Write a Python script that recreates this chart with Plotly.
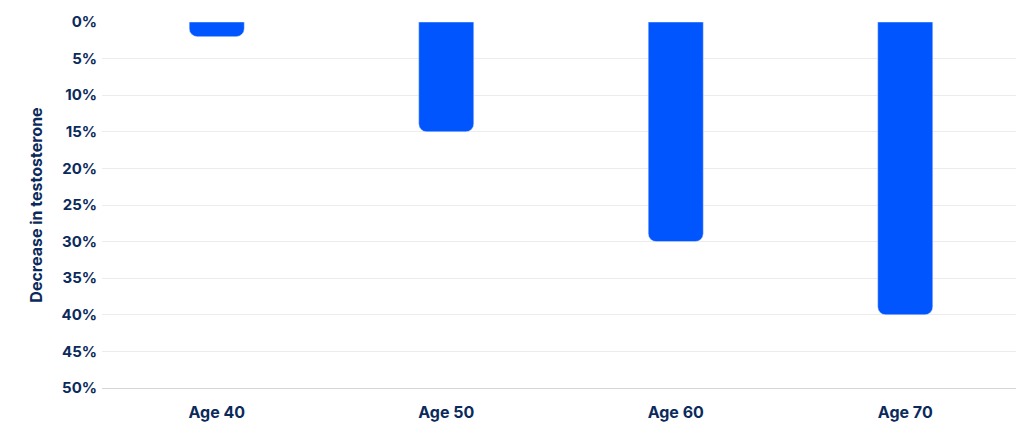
import plotly.graph_objects as go

categories = ["Age 40", "Age 50", "Age 60", "Age 70"]
decrease = [2, 15, 30, 40]
tick_vals = [0, 5, 10, 15, 20, 25, 30, 35, 40, 45, 50]
tick_text = [f"{v}%" for v in tick_vals]

navy = "#0b2a5b"
fig = go.Figure(go.Bar(
    x=categories, y=decrease, marker_color="#0055ff", width=0.24,
    text=[f"{v}%" for v in decrease], textposition="outside",
    textfont=dict(color="white", size=13), cliponaxis=False,
))
fig.update_layout(
    width=1024, height=436, plot_bgcolor="white", paper_bgcolor="white",
    margin=dict(l=94, r=12, t=14, b=56), barcornerradius=8, showlegend=False,
    font=dict(family="Inter, Roboto, sans-serif", color=navy, size=15),
)
fig.update_yaxes(range=[50, 0], tickvals=tick_vals, ticktext=tick_text, automargin=False,
                 gridcolor="#ececec", showline=False, zeroline=False, ticklabelstandoff=4,
                 tickfont=dict(size=15, color=navy, weight="bold"),
                 title=dict(text="Decrease in testosterone", font=dict(size=16, color=navy, weight="bold"), standoff=14))
fig.update_xaxes(showline=True, linecolor="#d6d6d6", automargin=False, ticklabelstandoff=10,
                 tickfont=dict(size=16, color=navy, weight="bold"))
fig.write_html("out.html")
